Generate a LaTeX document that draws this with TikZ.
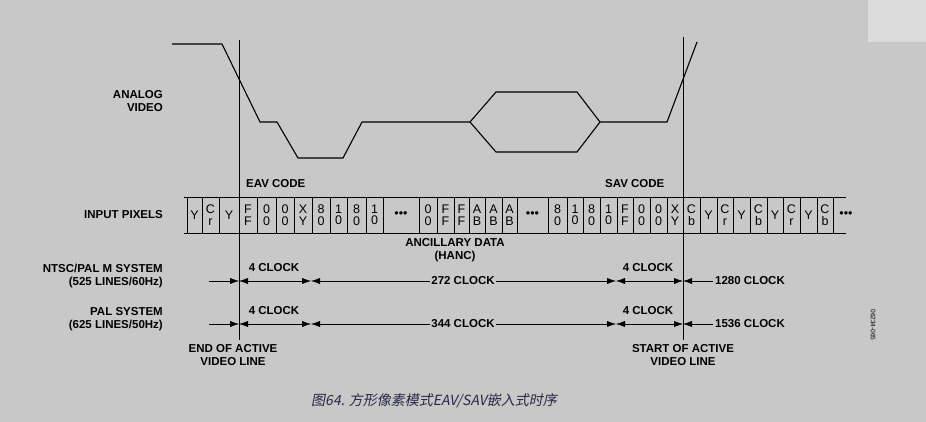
\documentclass[tikz,border=0pt]{standalone}
\usepackage{fontspec}
\setmainfont{Liberation Sans}
\newfontfamily\cjk{Noto Sans CJK SC}
\usetikzlibrary{arrows.meta}
\begin{document}
\begin{tikzpicture}[x=1pt,y=-1pt,
  lbl/.style={font=\bfseries\fontsize{11.5}{12.5}\selectfont,inner sep=0pt,align=right},
  clk/.style={font=\bfseries\fontsize{11.5}{12.5}\selectfont,inner sep=1.5pt,fill=bg},
  cell/.style={font=\fontsize{12.5}{11.5}\selectfont,inner sep=0pt,align=center},
  tip/.style={-{Latex[length=9pt,width=6pt]}},
  dtip/.style={{Latex[length=9pt,width=6pt]}-{Latex[length=9pt,width=6pt]}},
  wire/.style={line width=0.8pt}]
\definecolor{bg}{RGB}{200,200,200}
\definecolor{capc}{RGB}{40,40,70}
\fill[bg] (0,0) rectangle (926,422);
\fill[black!14] (868,0) rectangle (926,42);
\useasboundingbox (0,0) rectangle (926,422);
% analog waveform
\draw[wire,line width=1.1pt] (172,44) -- (222,44) -- (260,122) -- (277,122) -- (298,158) -- (343,158) -- (362,122) -- (470,122) -- (496,92) -- (577,92) -- (600,122) -- (667,122) -- (697,42);
\draw[wire,line width=1.1pt] (470,122) -- (496,152) -- (577,152) -- (600,122);
% vertical lines
\coordinate (eavT) at (239,40); \coordinate (eavB) at (239,340);
\coordinate (savT) at (683,37); \coordinate (savB) at (683,340);
\draw[wire] (eavT) -- (eavB);
\draw[wire] (savT) -- (savB);
% pixel row
\draw[wire] (184,197) -- (846,197);
\draw[wire] (184,233) -- (846,233);
\fill[bg] (239.6,198) rectangle (682.4,232);
\foreach \a/\b/\t in {187/202/Y,202/219/{C\\r},219/239/Y,239/257/{F\\F},257/276/{0\\0},276/294/{0\\0},294/312/{X\\Y},312/330/{8\\0},330/347/{1\\0},347/366/{8\\0},366/383/{1\\0},383/419/{\textbullet\textbullet\textbullet},419/437/{0\\0},437/454/{F\\F},454/469/{F\\F},469/485/{A\\B},485/502/{A\\B},502/517/{A\\B},517/548/{\textbullet\textbullet\textbullet},548/567/{8\\0},567/583/{1\\0},583/600/{8\\0},600/617/{1\\0},617/633/{F\\F},633/650/{0\\0},650/667/{0\\0},667/683/{X\\Y},683/700/{C\\b},700/717/Y,717/733/{C\\r},733/750/Y,750/767/{C\\b},767/783/Y,783/800/{C\\r},800/817/Y,817/833/{C\\b}}{
  \draw[wire] (\a,197) -- (\a,233);
  \node[cell] at ({(\a+\b)/2},215) {\t};
}
\draw[wire] (833,197) -- (833,233);
\node[cell] at (846,215) {\textbullet\textbullet\textbullet};
% labels
\node[lbl,anchor=east] (av) at (163,101) {ANALOG\\VIDEO};
\node[lbl,anchor=east] (ip) at (163,215) {INPUT PIXELS};
\node[lbl,anchor=west] (eav) at (246,184) {EAV CODE};
\node[lbl,anchor=west] (sav) at (605,184) {SAV CODE};
\node[lbl,align=center] (anc) at (455,250) {ANCILLARY DATA\\(HANC)};
\node[lbl,anchor=east] (ntsc) at (163,276) {NTSC/PAL M SYSTEM\\(525 LINES/60Hz)};
\node[lbl,anchor=east] (pal) at (163,319) {PAL SYSTEM\\(625 LINES/50Hz)};
\node[lbl,align=center] (eol) at (233,355) {END OF ACTIVE\\VIDEO LINE};
\node[lbl,align=center] (sol) at (683,355) {START OF ACTIVE\\VIDEO LINE};
% clock rows
\foreach \y/\n/\m/\k in {281/272/1280/a,324/344/1536/b}{
  \coordinate (l\k) at (209,\y); \coordinate (e\k) at (239,\y);
  \coordinate (p\k) at (311,\y); \coordinate (q\k) at (616,\y);
  \coordinate (s\k) at (683,\y); \coordinate (r\k) at (713,\y);
  \draw[tip] (l\k) -- (e\k);
  \draw[dtip] (e\k) -- (p\k);
  \draw[dtip] (p\k) -- (q\k);
  \draw[dtip] (q\k) -- (s\k);
  \draw[tip] (r\k) -- (s\k);
  \node[clk] at (463,\y) {\n\ CLOCK};
  \node[lbl,anchor=west] at (715,\y) {\m\ CLOCK};
  \node[lbl] at (274,\y-13) {4 CLOCK};
  \node[lbl] at (648,\y-13) {4 CLOCK};
}
\node[font=\fontsize{6.5}{6.5}\selectfont,rotate=-90,inner sep=0pt] (fig) at (873,325) {06234-065};
\node[font=\cjk\fontsize{14}{15}\selectfont,text=capc,inner sep=0pt,xslant=0.2] (cap) at (435,401) {图64. 方形像素模式EAV/SAV嵌入式时序};
\end{tikzpicture}
\end{document}
